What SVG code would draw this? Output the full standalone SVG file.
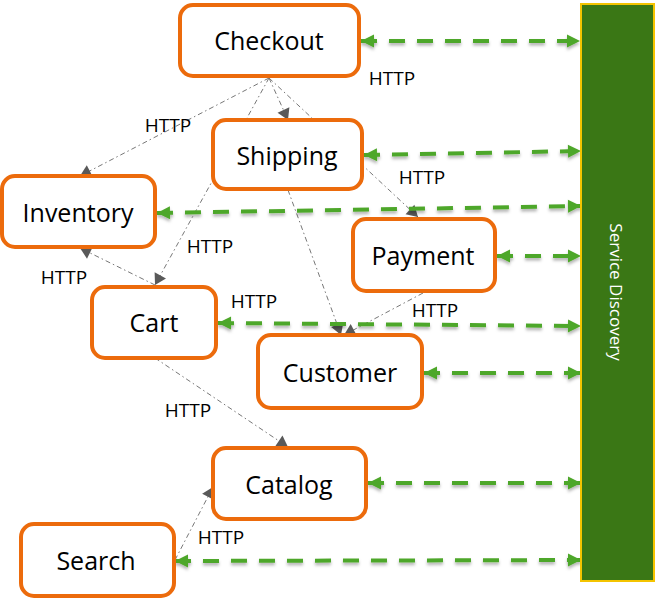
<svg xmlns="http://www.w3.org/2000/svg" width="662" height="599" viewBox="0 0 662 599">
<style>
text{font-family:"Open Sans","Noto Sans","Liberation Sans",sans-serif;fill:#000}
.n{fill:#fff;stroke:#ec6b0c;stroke-width:4}
.l{font-size:25px;text-anchor:middle}
.h{font-size:19px;text-anchor:middle}
.d{fill:none;stroke:#777;stroke-width:1;stroke-dasharray:5 3 1.5 3;marker-end:url(#g)}
.b{fill:none;stroke:#4ea72a;stroke-width:4;stroke-dasharray:16 12;marker-start:url(#a);marker-end:url(#a);filter:url(#s)}
</style>
<defs>
<marker id="a" markerUnits="userSpaceOnUse" markerWidth="16" markerHeight="16" refX="14" refY="8" orient="auto-start-reverse"><path d="M1 1.5L14 8L1 14.5Z" fill="#4ea72a"/></marker>
<marker id="g" markerUnits="userSpaceOnUse" markerWidth="16" markerHeight="16" refX="12" refY="8" orient="auto"><path d="M1 1.5L12 8L1 14.5Z" fill="#595959"/></marker>
<filter id="s" filterUnits="userSpaceOnUse" x="0" y="0" width="662" height="599"><feDropShadow dx="0" dy="2.5" stdDeviation="1.5" flood-color="#000" flood-opacity=".3"/></filter>
</defs>
<g id="connectors">
<path class="d" d="M269 78L80 176"/>
<path class="d" d="M269 78L155 285"/>
<path class="d" d="M269 78L288 120"/>
<path class="d" d="M269 78L418 217"/>
<path class="d" d="M288 190L341 335"/>
<path class="d" d="M423 293L344 335"/>
<path class="d" d="M155 285L80 248"/>
<path class="d" d="M155 358L288 447"/>
<path class="d" d="M175 560L213 487"/>
<path class="b" d="M361 41L580 41"/>
<path class="b" d="M364 155L581 151"/>
<path class="b" d="M157 213L581 206"/>
<path class="b" d="M497 256L581 256"/>
<path class="b" d="M218 323L581 326"/>
<path class="b" d="M424 373L581 373"/>
<path class="b" d="M368 483L581 483"/>
<path class="b" d="M175 561L581 560"/>
</g>
<g id="checkout"><rect class="n" x="180" y="5" width="179" height="71" rx="13"/><text class="l" x="269" y="50">Checkout</text></g>
<g id="shipping"><rect class="n" x="213" y="120" width="149" height="69" rx="13"/><text class="l" x="287" y="165">Shipping</text></g>
<g id="inventory"><rect class="n" x="2" y="176" width="153" height="71" rx="13"/><text class="l" x="78" y="222">Inventory</text></g>
<g id="payment"><rect class="n" x="353" y="219" width="142" height="72" rx="13"/><text class="l" x="423" y="265">Payment</text></g>
<g id="cart"><rect class="n" x="92" y="287" width="124" height="71" rx="13"/><text class="l" x="154" y="332">Cart</text></g>
<g id="customer"><rect class="n" x="258" y="335" width="164" height="73" rx="13"/><text class="l" x="340" y="382">Customer</text></g>
<g id="catalog"><rect class="n" x="213" y="448" width="153" height="71" rx="13"/><text class="l" x="289" y="494">Catalog</text></g>
<g id="search"><rect class="n" x="21" y="524" width="153" height="72" rx="13"/><text class="l" x="96" y="570">Search</text></g>
<g id="service-discovery"><rect x="581" y="4" width="73" height="577" fill="#3a7715" stroke="#f4c400" stroke-width="2"/><text transform="translate(610 292) rotate(90)" text-anchor="middle" font-size="17" style="fill:#fff">Service Discovery</text></g>
<g id="labels">
<text class="h" x="392" y="85">HTTP</text>
<text class="h" x="168" y="132">HTTP</text>
<text class="h" x="422" y="184">HTTP</text>
<text class="h" x="210" y="253">HTTP</text>
<text class="h" x="64" y="284">HTTP</text>
<text class="h" x="254" y="308">HTTP</text>
<text class="h" x="435" y="317">HTTP</text>
<text class="h" x="188" y="417">HTTP</text>
<text class="h" x="221" y="544">HTTP</text>
</g>
</svg>
